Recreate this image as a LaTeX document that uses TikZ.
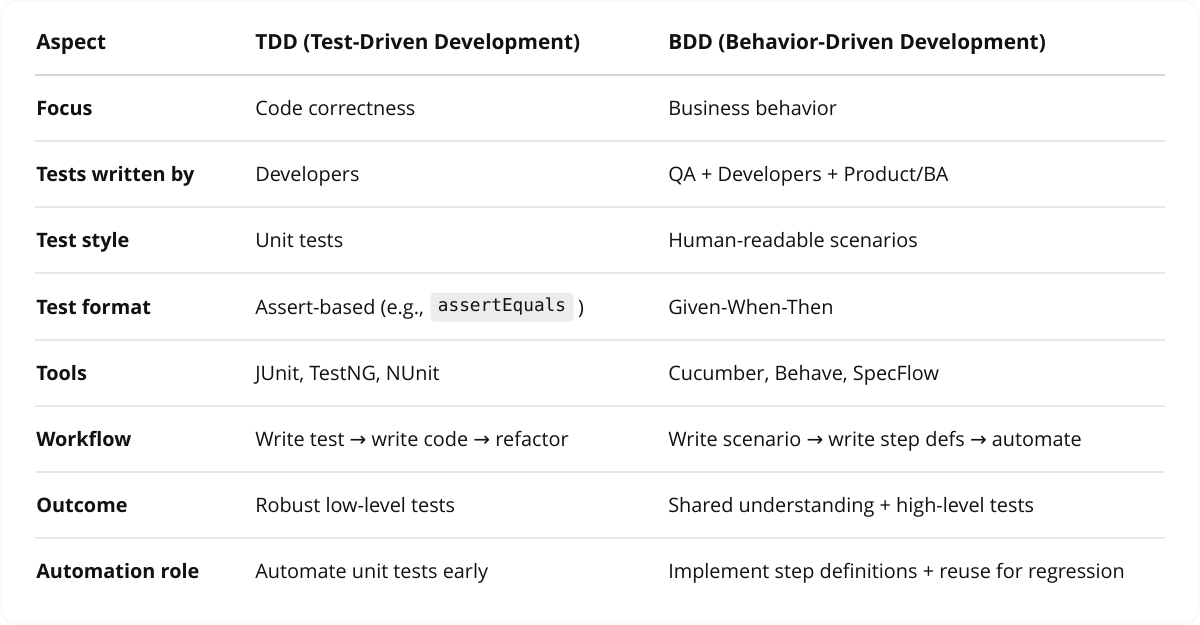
\documentclass[tikz,border=0pt]{standalone}
\usepackage{fontspec}
\setmainfont{Open Sans}
\setmonofont{DejaVu Sans Mono}
\newfontfamily\arrowfont{DejaVu Sans}
\newcommand{\arr}{{\arrowfont\fontsize{15pt}{16pt}\selectfont →}}
\definecolor{txt}{HTML}{111111}
\definecolor{sep}{HTML}{E8E8E8}
\definecolor{hsep}{HTML}{D4D4D4}
\definecolor{codebg}{HTML}{ECECEC}
\begin{document}
\begin{tikzpicture}[x=0.75pt,y=-0.75pt,
  cell/.style={anchor=base west,inner sep=0pt,text=txt,font=\fontsize{14.9pt}{16pt}\selectfont},
  key/.style={cell,font=\fontsize{14.9pt}{16pt}\selectfont\bfseries},
  head/.style={cell,font=\fontsize{15.6pt}{16pt}\selectfont\bfseries}]
\path[use as bounding box] (0,0) rectangle (1200,625);
\draw[fill=white,draw=black!6,rounded corners=12] (1,1) rectangle (1199,624);
\def\o{7}
\node[head] (h1) at (36,42+\o) {Aspect};
\node[head] (h2) at (255,42+\o) {TDD (Test-Driven Development)};
\node[head] (h3) at (668,42+\o) {BDD (Behavior-Driven Development)};
\draw[hsep,line width=1.5] (35,75) -- (1165,75);
\foreach \y in {141,207,273,340,406,472,538} \draw[sep,line width=0.8] (35,\y) -- (1165,\y);
\node[key] (a1) at (36,108+\o) {Focus};
\node[cell] (b1) at (255,108+\o) {Code correctness};
\node[cell] (c1) at (668,108+\o) {Business behavior};
\node[key] (a2) at (36,174+\o) {Tests written by};
\node[cell] (b2) at (255,174+\o) {Developers};
\node[cell] (c2) at (668,174+\o) {QA + Developers + Product/BA};
\node[key] (a3) at (36,240+\o) {Test style};
\node[cell] (b3) at (255,240+\o) {Unit tests};
\node[cell] (c3) at (668,240+\o) {Human-readable scenarios};
\node[key] (a4) at (36,307+\o) {Test format};
\node[cell] (b4) at (255,307+\o) {Assert-based (e.g.,};
\node[anchor=west,fill=codebg,rounded corners=3,minimum width=143*0.75pt,minimum height=29*0.75pt,inner sep=0pt,text=txt,font=\ttfamily\fontsize{13.3pt}{14pt}\selectfont] (code) at ([xshift=6*0.75pt]b4.east|-0,307) {assertEquals};
\node[cell,anchor=base west] (b4b) at ([xshift=4*0.75pt]code.east|-b4.base) {)};
\node[cell] (c4) at (668,307+\o) {Given-When-Then};
\node[key] (a5) at (36,373+\o) {Tools};
\node[cell] (b5) at (255,373+\o) {JUnit, TestNG, NUnit};
\node[cell] (c5) at (668,373+\o) {Cucumber, Behave, SpecFlow};
\node[key] (a6) at (36,439+\o) {Workflow};
\node[cell] (b6) at (255,439+\o) {Write test \arr{} write code \arr{} refactor};
\node[cell] (c6) at (668,439+\o) {Write scenario \arr{} write step defs \arr{} automate};
\node[key] (a7) at (36,505+\o) {Outcome};
\node[cell] (b7) at (255,505+\o) {Robust low-level tests};
\node[cell] (c7) at (668,505+\o) {Shared understanding + high-level tests};
\node[key] (a8) at (36,571+\o) {Automation role};
\node[cell] (b8) at (255,571+\o) {Automate unit tests early};
\node[cell] (c8) at (668,571+\o) {Implement step definitions + reuse for regression};
\end{tikzpicture}
\end{document}
